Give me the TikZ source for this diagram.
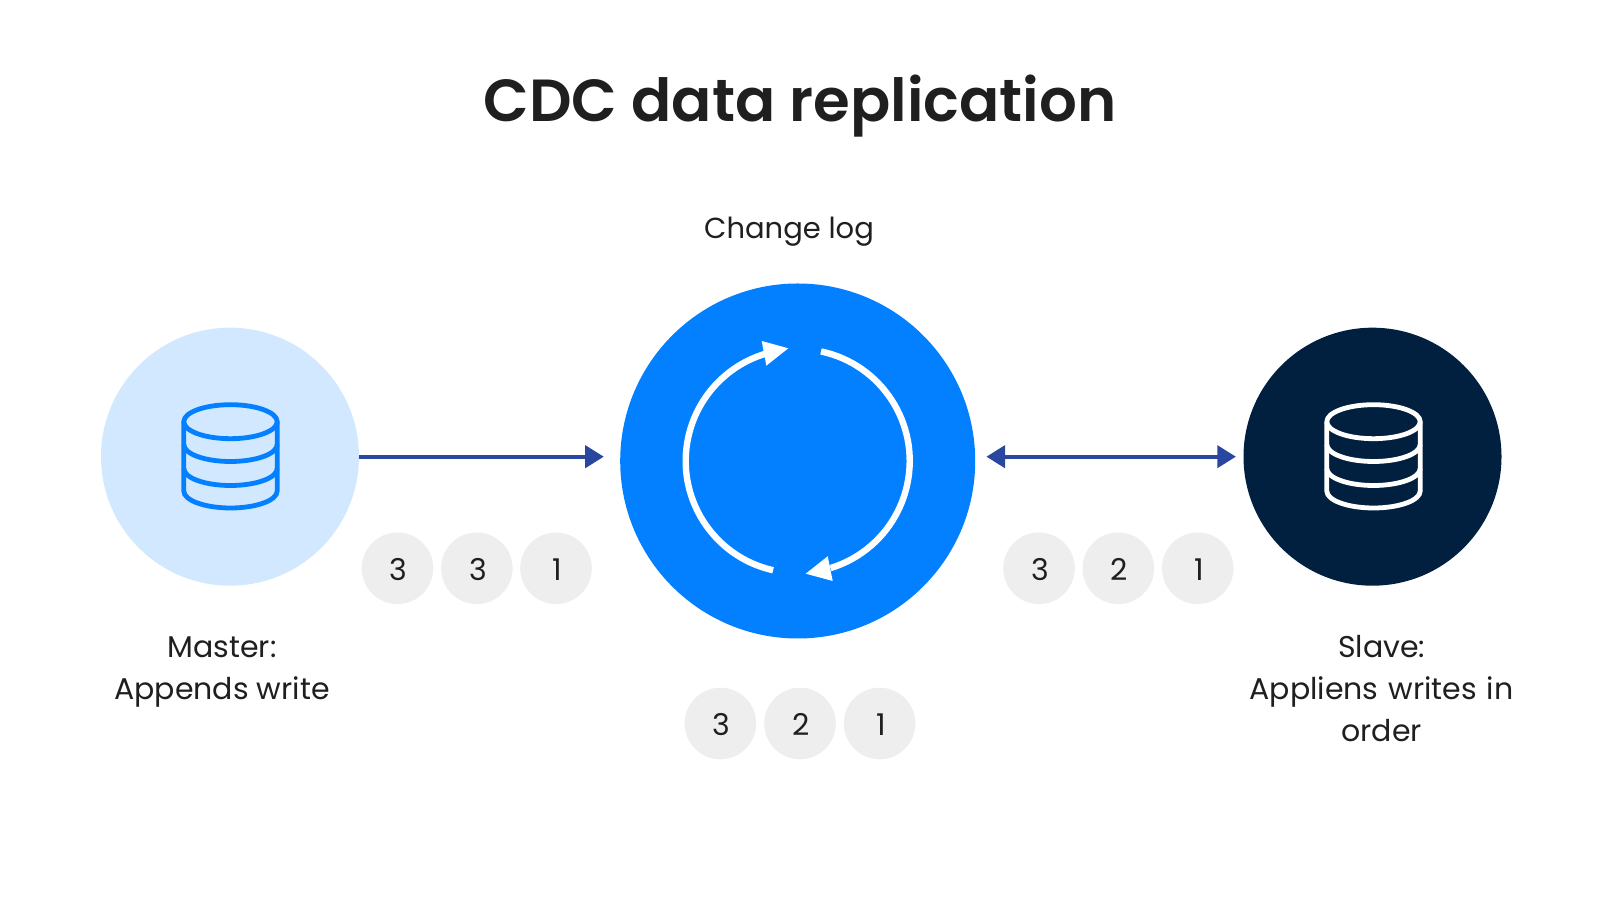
\documentclass[tikz,border=0pt]{standalone}
\usepackage{fontspec}
\setmainfont{Poppins}
\newfontfamily\titlefont{Poppins SemiBold}
\usetikzlibrary{arrows.meta}
\definecolor{midblue}{HTML}{0380FF}
\definecolor{paleblue}{HTML}{D2E8FF}
\definecolor{navy}{HTML}{012040}
\definecolor{arrowblue}{HTML}{2A479F}
\definecolor{chipgrey}{HTML}{EEEEEE}
\definecolor{inkc}{HTML}{1F1F1F}
\tikzset{
  x=0.5pt,y=0.5pt,
  bigdisc/.style={circle,inner sep=0pt,minimum size=129pt},
  chip/.style={circle,fill=chipgrey,inner sep=0pt,minimum size=35.8pt},
  chipnum/.style={text=inkc,font=\fontsize{15}{15}\selectfont},
  label/.style={align=center,text=inkc,font=\fontsize{15}{21}\selectfont},
  flow/.style={draw=arrowblue,line width=2pt,-{Triangle[length=9.3pt,width=11pt]}},
  flowboth/.style={draw=arrowblue,line width=2pt,{Triangle[length=9.3pt,width=11pt]}-{Triangle[length=9.3pt,width=11pt]}},
  cyc/.style={draw=white,line width=3.2pt},
  pics/dbicon/.style={code={
    \draw[line width=2.4pt,line join=round] (0,0) ellipse[x radius=23.35pt,y radius=8.5pt];
    \draw[line width=2.4pt] (-46.7,0) -- (-46.7,-69.3) arc[start angle=180,end angle=360,x radius=23.35pt,y radius=8.5pt] -- (46.7,0);
    \draw[line width=2.4pt] (-46.7,-22.8) arc[start angle=180,end angle=360,x radius=23.35pt,y radius=8.5pt];
    \draw[line width=2.4pt] (-46.7,-46.8) arc[start angle=180,end angle=360,x radius=23.35pt,y radius=8.5pt];
  }}
}
\begin{document}
\begin{tikzpicture}
\useasboundingbox (0,0) rectangle (1600,914);
\node[text=inkc,font=\fontsize{29.7}{30}\titlefont] (title) at (800,808) {CDC data replication};
\node[label,font=\fontsize{14.5}{21}\selectfont] (loglabel) at (789,682) {Change log};

\node[bigdisc,fill=paleblue] (master) at (230,457.3) {};
\node[bigdisc,minimum size=355pt*0.5,fill=midblue] (log) at (797.7,453) {};
\node[bigdisc,fill=navy] (slave) at (1372.5,457.3) {};

\pic[draw=midblue] at (230.5,492.3) {dbicon};
\pic[draw=white] at (1373.5,492.3) {dbicon};

% cycle arrows
\draw[cyc] (log.center) ++(78:56pt) arc[start angle=78,end angle=-73,radius=56pt];
\draw[cyc] (log.center) ++(257.3:56pt) arc[start angle=257.3,end angle=107,radius=56pt];
\fill[white] (805.7,340.3) -- (827.7,357.7) -- (832.7,333) -- cycle;
\fill[white] (788.3,565.7) -- (761.7,573) -- (766.3,548.3) -- cycle;

% connectors
\draw[flow,shorten >=8pt] (master.east) -- (master.east -| log.west);
\draw[flowboth,shorten <=5.4pt,shorten >=3.6pt] (slave.west -| log.east) -- (slave.west);

% chips
\node[chip] (a3) at (397.5,345.7) {};
\node[chip] (a2) at (476.8,345.7) {};
\node[chip] (a1) at (556,345.7) {};
\node[chip] (b3) at (1039,345.7) {};
\node[chip] (b2) at (1118.3,345.7) {};
\node[chip] (b1) at (1197.7,345.7) {};
\node[chip] (c3) at (720.4,190.5) {};
\node[chip] (c2) at (800,190.5) {};
\node[chip] (c1) at (879.6,190.5) {};
\foreach \c/\t in {a3/3,a2/3,a1/1,b3/3,b2/2,b1/1,c3/3,c2/2,c1/1}
  \node[chipnum,xshift=0.6pt,yshift=-0.5pt] at (\c) {\t};

\node[label,anchor=center] (masterlabel) at (222,242) {Master:\\Appends write};
\node[label,anchor=center,text width=135pt] (slavelabel) at (1381.6,225) {Slave:\\Appliens writes in\\order};
\end{tikzpicture}
\end{document}
